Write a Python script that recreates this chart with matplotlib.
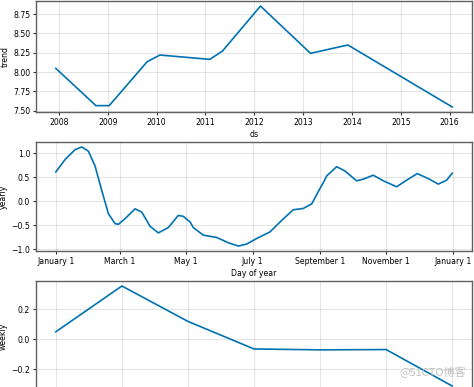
import matplotlib
matplotlib.use("Agg")
import matplotlib.pyplot as plt
import matplotlib.dates as mdates
import numpy as np
import pandas as pd

# trend component
trend_dates = ["2007-12-10", "2008-10-05", "2009-01-12", "2009-10-23", "2010-01-26",
               "2011-02-03", "2011-05-08", "2012-02-17", "2013-02-25", "2013-12-01",
               "2016-01-20"]
trend_vals = [8.047, 7.565, 7.565, 8.134, 8.22, 8.164, 8.27, 8.854, 8.242, 8.35, 7.548]

# yearly component: day offset from Jan 1, value
yearly_days = [0, 8.6, 17.7, 23.9, 30, 36.1, 42.3, 48.4, 54.5, 57.6, 63.7, 72.9, 79.1,
               86.7, 94.3, 103.5, 112.7, 117.3, 123.5, 126.5, 135.7, 148, 158.7, 167.9,
               175.6, 184.8, 197, 207.8, 218.4, 227.6, 235.4, 243, 247, 249.2, 258.3,
               266, 276.7, 282.8, 292, 301.2, 313.5, 322.7, 332.5, 342.6, 351.8, 359.5,
               364.6]
yearly_vals = [0.614, 0.876, 1.08, 1.136, 1.047, 0.738, 0.223, -0.258, -0.464, -0.478,
               -0.361, -0.155, -0.225, -0.52, -0.657, -0.546, -0.293, -0.313, -0.43,
               -0.547, -0.705, -0.753, -0.864, -0.932, -0.89, -0.774, -0.637, -0.396,
               -0.175, -0.148, -0.052, 0.27, 0.43, 0.532, 0.724, 0.635, 0.429, 0.464,
               0.546, 0.43, 0.305, 0.443, 0.58, 0.476, 0.36, 0.443, 0.587]

# weekly component (Sunday..Saturday; day names fall below the visible crop)
week_days = ["Sunday", "Monday", "Tuesday", "Wednesday", "Thursday", "Friday", "Saturday"]
weekly_vals = [0.05, 0.354, 0.119, -0.064, -0.07, -0.068, -0.31]

fs = 5.6
blue = "#0072B2"
plt.rcParams["font.size"] = fs
plt.rcParams["xtick.major.size"] = 2.2
plt.rcParams["ytick.major.size"] = 2.2
plt.rcParams["xtick.major.pad"] = 2.0
plt.rcParams["ytick.major.pad"] = 2.0
plt.rcParams["axes.labelpad"] = 2.5


def style(ax):
    ax.grid(True, which="major", c="gray", ls="-", lw=0.8, alpha=0.2)
    for s in ax.spines.values():
        s.set_color("#606060")
        s.set_linewidth(1.0)
    ax.tick_params(labelsize=fs, colors="#333333", labelcolor="black")


fig = plt.figure(figsize=(4.74, 3.87), dpi=100)

ax1 = fig.add_axes([36 / 474, 1 - 112 / 387, 436 / 474, 111 / 387])
ax1.plot(pd.to_datetime(trend_dates), trend_vals, ls="-", c=blue, lw=1.2)
ax1.xaxis.set_major_locator(mdates.YearLocator())
ax1.xaxis.set_major_formatter(mdates.DateFormatter("%Y"))
ax1.set_yticks([7.5, 7.75, 8.0, 8.25, 8.5, 8.75])
ax1.set_xlabel("ds", fontsize=fs)
ax1.set_ylabel("trend", fontsize=fs)
style(ax1)

ax2 = fig.add_axes([36 / 474, 1 - 251 / 387, 436 / 474, 109 / 387])
ydates = pd.Timestamp("2017-01-01") + pd.to_timedelta(yearly_days, unit="D")
ax2.plot(ydates, yearly_vals, ls="-", c=blue, lw=1.2)
ax2.xaxis.set_major_locator(mdates.MonthLocator(bymonth=range(1, 13, 2)))
ax2.xaxis.set_major_formatter(mdates.DateFormatter("%B %-d"))
ax2.set_yticks([-1.0, -0.5, 0.0, 0.5, 1.0])
ax2.set_xlabel("Day of year", fontsize=fs)
ax2.set_ylabel("yearly", fontsize=fs)
style(ax2)

ax3 = fig.add_axes([36 / 474, 1 - 391 / 387, 436 / 474, 110 / 387])
ax3.plot(range(len(week_days)), weekly_vals, ls="-", c=blue, lw=1.2)
ax3.set_xticks(range(len(week_days)))
ax3.set_xticklabels([])
ax3.set_yticks([-0.2, 0.0, 0.2])
ax3.set_ylabel("weekly", fontsize=fs)
style(ax3)

fig.text(466 / 474, 1 - 372 / 387, "@51CTO博客", ha="right", va="center", fontsize=8,
         color="#c0c0c0", family=["Noto Sans CJK SC", "DejaVu Sans"])

fig.savefig("out.png", dpi=100)
